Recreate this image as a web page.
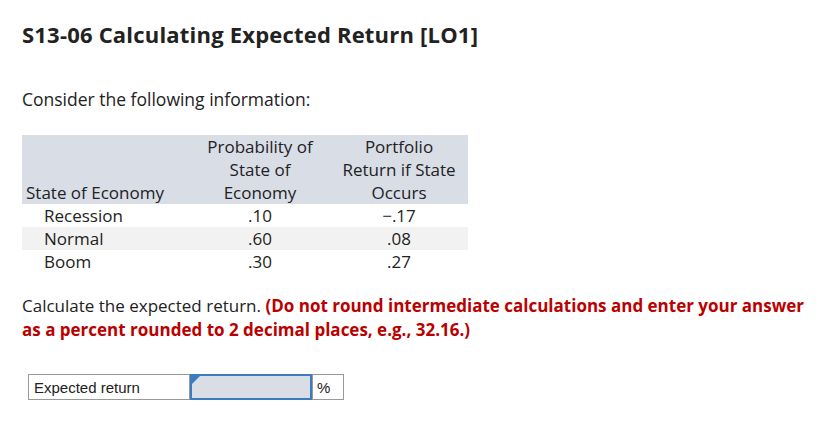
<!DOCTYPE html>
<html><head><meta charset="utf-8">
<script src="https://cdn.jsdelivr.net/npm/chart.js@4.4.0/dist/chart.umd.min.js"></script>
<style>
body{margin:0;width:829px;height:438px;background:#fff;font-family:"Open Sans",sans-serif;color:#222;position:relative;overflow:hidden}
#title{position:absolute;left:22px;top:19px;font-size:22px;font-weight:bold;color:#222;letter-spacing:0.2px}
#intro{position:absolute;left:22px;top:87px;font-size:17.5px}
table{position:absolute;left:22px;top:135px;border-collapse:collapse;font-size:17px}
th{background:#d9dde6;font-weight:normal;vertical-align:bottom;line-height:23px;padding:0 4px}
td{line-height:23px;padding:0 4px;text-align:center}
td.s{text-align:left;padding-left:22px}
tr.g td{background:#f2f2f2}
#q{position:absolute;left:22px;top:294px;font-size:17px;line-height:24px;width:795px}
#q b{color:#b00;}
#inp{position:absolute;left:28px;top:374px;display:flex;font-size:15px;font-family:"Liberation Sans",Arial,sans-serif}
#inp div{height:26px;line-height:26px;border:1px solid #999;box-sizing:border-box}
</style></head><body>
<div id="title">S13-06 Calculating Expected Return [LO1]</div>
<div id="intro">Consider the following information:</div>
<table id="t"></table>
<div id="q">Calculate the expected return. <b>(Do not round intermediate calculations and enter your answer as a percent rounded to 2 decimal places, e.g., 32.16.)</b></div>
<div id="inp">
<div style="width:162px;padding-left:5px;background:#fff">Expected return</div>
<div style="width:122px;background:#d9dde6;border:2px solid #3b7bbf;position:relative"><span style="position:absolute;left:0;top:0;border-top:8px solid #3b7bbf;border-right:8px solid transparent"></span></div>
<div style="width:32px;padding-left:4px">%</div>
</div>
<script>
const states=["Recession","Normal","Boom"];
const probabilities=[".10",".60",".30"];
const returns=["\u2212.17",".08",".27"];
const headers=["State of Economy","Probability of<br>State of<br>Economy","Portfolio<br>Return if State<br>Occurs"];
let h='<tr><th style="text-align:left;width:160px">'+headers[0]+'</th><th style="width:132px">'+headers[1]+'</th><th style="width:130px">'+headers[2]+'</th></tr>';
states.forEach((s,i)=>{h+='<tr class="'+(i==1?'g':'')+'"><td class="s">'+s+'</td><td>'+probabilities[i]+'</td><td>'+returns[i]+'</td></tr>';});
document.getElementById('t').innerHTML=h;
</script>
</body></html>
